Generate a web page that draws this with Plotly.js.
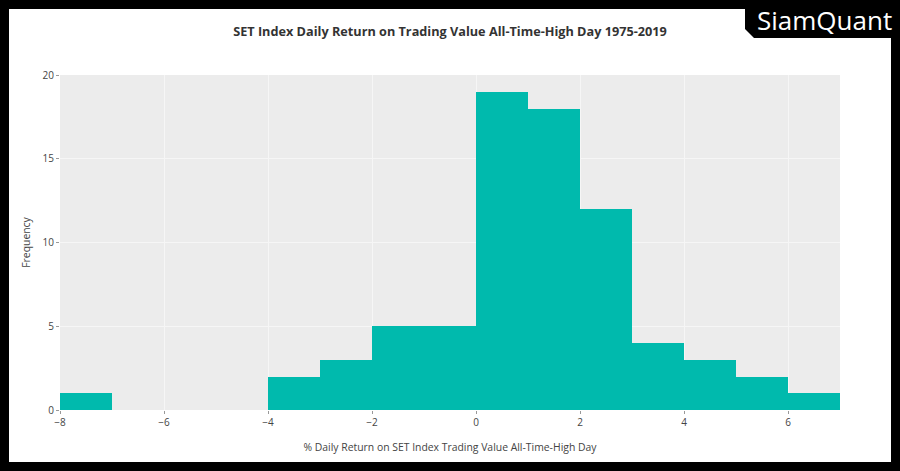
<!DOCTYPE html>
<html>
<head>
<meta charset="utf-8">
<script src="https://cdn.plot.ly/plotly-3.0.1.min.js"></script>
<style>
  html, body { margin: 0; padding: 0; background: #000; width: 900px; height: 471px; overflow: hidden; }
  #frame { position: absolute; left: 9px; top: 9px; width: 882px; height: 453px; background: #fff; }
  #chart { position: absolute; left: 0; top: 0; width: 900px; height: 471px; }
</style>
</head>
<body>
<div id="frame"></div>
<div id="chart"></div>
<script>
// Histogram bins (left edges, width 1) and counts
var binStarts = [-8, -7, -6, -5, -4, -3, -2, -1, 0, 1, 2, 3, 4, 5, 6];
var counts    = [ 1,  0,  0,  0,  2,  3,  5,  5, 19, 18, 12, 4, 3, 2, 1];
var binWidth = 1;
var xTicks = [-8, -6, -4, -2, 0, 2, 4, 6];
var yTicks = [0, 5, 10, 15, 20];

var titleText = 'SET Index Daily Return on Trading Value All-Time-High Day 1975-2019';
var xTitle = '% Daily Return on SET Index Trading Value All-Time-High Day';
var yTitle = 'Frequency';
var logoText = 'SiamQuant';

var centers = binStarts.map(function (s) { return s + binWidth / 2; });

var trace = {
  type: 'bar',
  x: centers,
  y: counts,
  width: binStarts.map(function () { return binWidth; }),
  marker: { color: 'rgb(0,186,173)', line: { width: 0 } },
  hoverinfo: 'x+y',
  showlegend: false
};

// pixel -> paper helpers (plot area: x 60..840, y 75..410)
function px(x) { return (x - 60) / 780; }
function py(y) { return (410 - y) / 335; }

var logoPath = 'M ' + px(745) + ' ' + py(0) +
  ' L ' + px(900) + ' ' + py(0) +
  ' L ' + px(900) + ' ' + py(38) +
  ' L ' + px(754) + ' ' + py(38) +
  ' L ' + px(745) + ' ' + py(29) + ' Z';

var layout = {
  width: 900,
  height: 471,
  margin: { l: 60, r: 60, t: 75, b: 61, pad: 0 },
  paper_bgcolor: 'rgba(0,0,0,0)',
  plot_bgcolor: 'rgb(236,236,236)',
  font: { family: '"Open Sans", sans-serif', color: '#444' },
  bargap: 0,
  title: {
    text: '<b>' + titleText + '</b>',
    font: { size: 12.7, color: '#333', family: '"Open Sans", sans-serif' },
    x: 0.5, xanchor: 'center',
    y: 1 - 32 / 471, yanchor: 'middle', yref: 'container'
  },
  xaxis: {
    range: [-8, 7],
    tickvals: xTicks,
    ticktext: xTicks.map(function (v) { return v < 0 ? '\u2212' + Math.abs(v) : String(v); }),
    ticks: 'outside', ticklen: 3, tickcolor: '#999', tickwidth: 1,
    tickfont: { size: 10, color: '#444' },
    showgrid: true, gridcolor: '#f6f6f6', gridwidth: 1,
    zeroline: false, showline: false,
    title: { text: xTitle, font: { size: 10.4, color: '#444' }, standoff: 15 },
    fixedrange: true
  },
  yaxis: {
    range: [0, 20],
    tickvals: yTicks,
    ticks: 'outside', ticklen: 3, tickcolor: '#999', tickwidth: 1,
    tickfont: { size: 10, color: '#444' },
    showgrid: true, gridcolor: '#f6f6f6', gridwidth: 1,
    zeroline: false, showline: false,
    title: { text: yTitle, font: { size: 10.4, color: '#444' }, standoff: 9 },
    fixedrange: true
  },
  shapes: [
    { type: 'path', xref: 'paper', yref: 'paper', path: logoPath,
      fillcolor: '#000', line: { width: 0 }, layer: 'above' }
  ],
  annotations: [
    { text: logoText, xref: 'paper', yref: 'paper',
      x: px(824), y: py(20), xanchor: 'center', yanchor: 'middle',
      showarrow: false, font: { size: 26, color: '#fff', family: '"Open Sans", sans-serif' } }
  ]
};

Plotly.newPlot('chart', [trace], layout, { displayModeBar: false, staticPlot: true });
</script>
</body>
</html>
